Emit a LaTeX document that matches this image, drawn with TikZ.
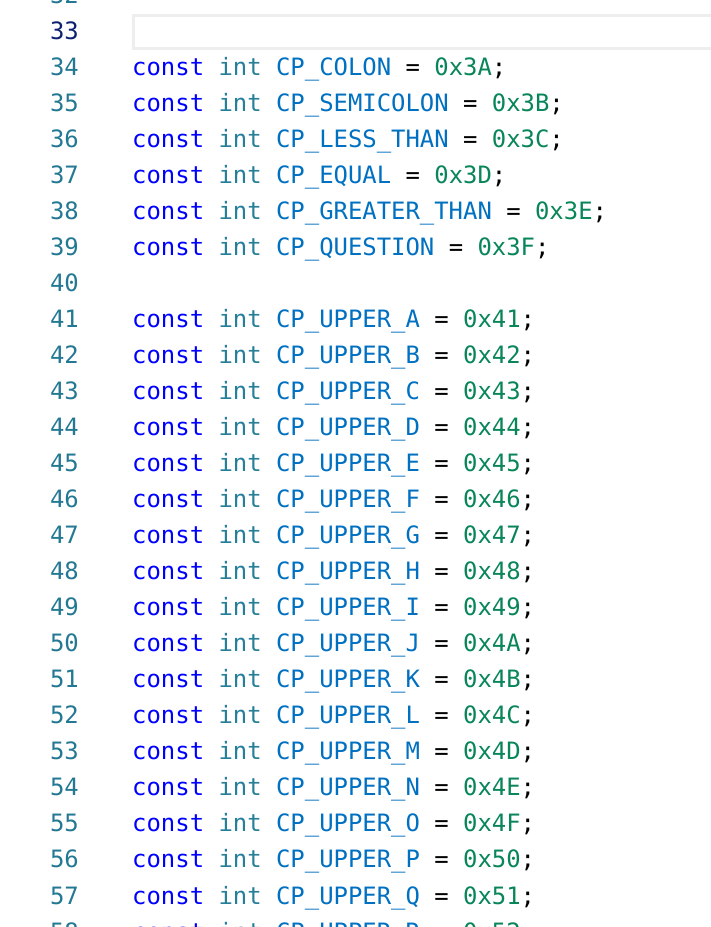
\documentclass[tikz,border=0pt]{standalone}
\usepackage{fontspec}
\setmonofont{DejaVu Sans Mono}
\definecolor{kw}{HTML}{0000FF}
\definecolor{ty}{HTML}{267F99}
\definecolor{id}{HTML}{0070C1}
\definecolor{num}{HTML}{098658}
\definecolor{ln}{HTML}{237893}
\definecolor{lncur}{HTML}{0B216F}
\definecolor{hl}{HTML}{EEEEEE}
\newcommand{\cpline}[2]{{\color{kw}const} {\color{ty}int} {\color{id}CP\_#1} = {\color{num}#2};}
\begin{document}
\begin{tikzpicture}[x=1pt,y=1pt,
  code/.style={anchor=base west,inner sep=0,font=\ttfamily\fontsize{23.9}{28}\selectfont},
  lnum/.style={anchor=base east,inner sep=0,font=\ttfamily\fontsize{23.9}{28}\selectfont,text=ln}]
\useasboundingbox (0,0) rectangle (710,927);
\fill[white] (0,0) rectangle (710,927);
\draw[hl,line width=3] (133,927-15.5) rectangle (715,927-48.5);
\newcommand{\by}[1]{927-40-(#1-33)*36}
\node[lnum] (n32) at (79,{\by{32}}) {32};
\node[lnum,text=lncur] (n33) at (79,{\by{33}}) {33};
\foreach \n/\name/\hex in {34/COLON/0x3A,35/SEMICOLON/0x3B,36/LESS\_THAN/0x3C,37/EQUAL/0x3D,38/GREATER\_THAN/0x3E,39/QUESTION/0x3F,
 41/UPPER\_A/0x41,42/UPPER\_B/0x42,43/UPPER\_C/0x43,44/UPPER\_D/0x44,45/UPPER\_E/0x45,46/UPPER\_F/0x46,47/UPPER\_G/0x47,48/UPPER\_H/0x48,49/UPPER\_I/0x49,50/UPPER\_J/0x4A,51/UPPER\_K/0x4B,52/UPPER\_L/0x4C,53/UPPER\_M/0x4D,54/UPPER\_N/0x4E,55/UPPER\_O/0x4F,56/UPPER\_P/0x50,57/UPPER\_Q/0x51,58/UPPER\_R/0x52}{
  \node[lnum] (n\n) at (79,{\by{\n}}) {\n};
  \node[code] (c\n) at (132,{\by{\n}}) {\cpline{\name}{\hex}};
}
\node[lnum] (n40) at (79,{\by{40}}) {40};
\end{tikzpicture}
\end{document}
